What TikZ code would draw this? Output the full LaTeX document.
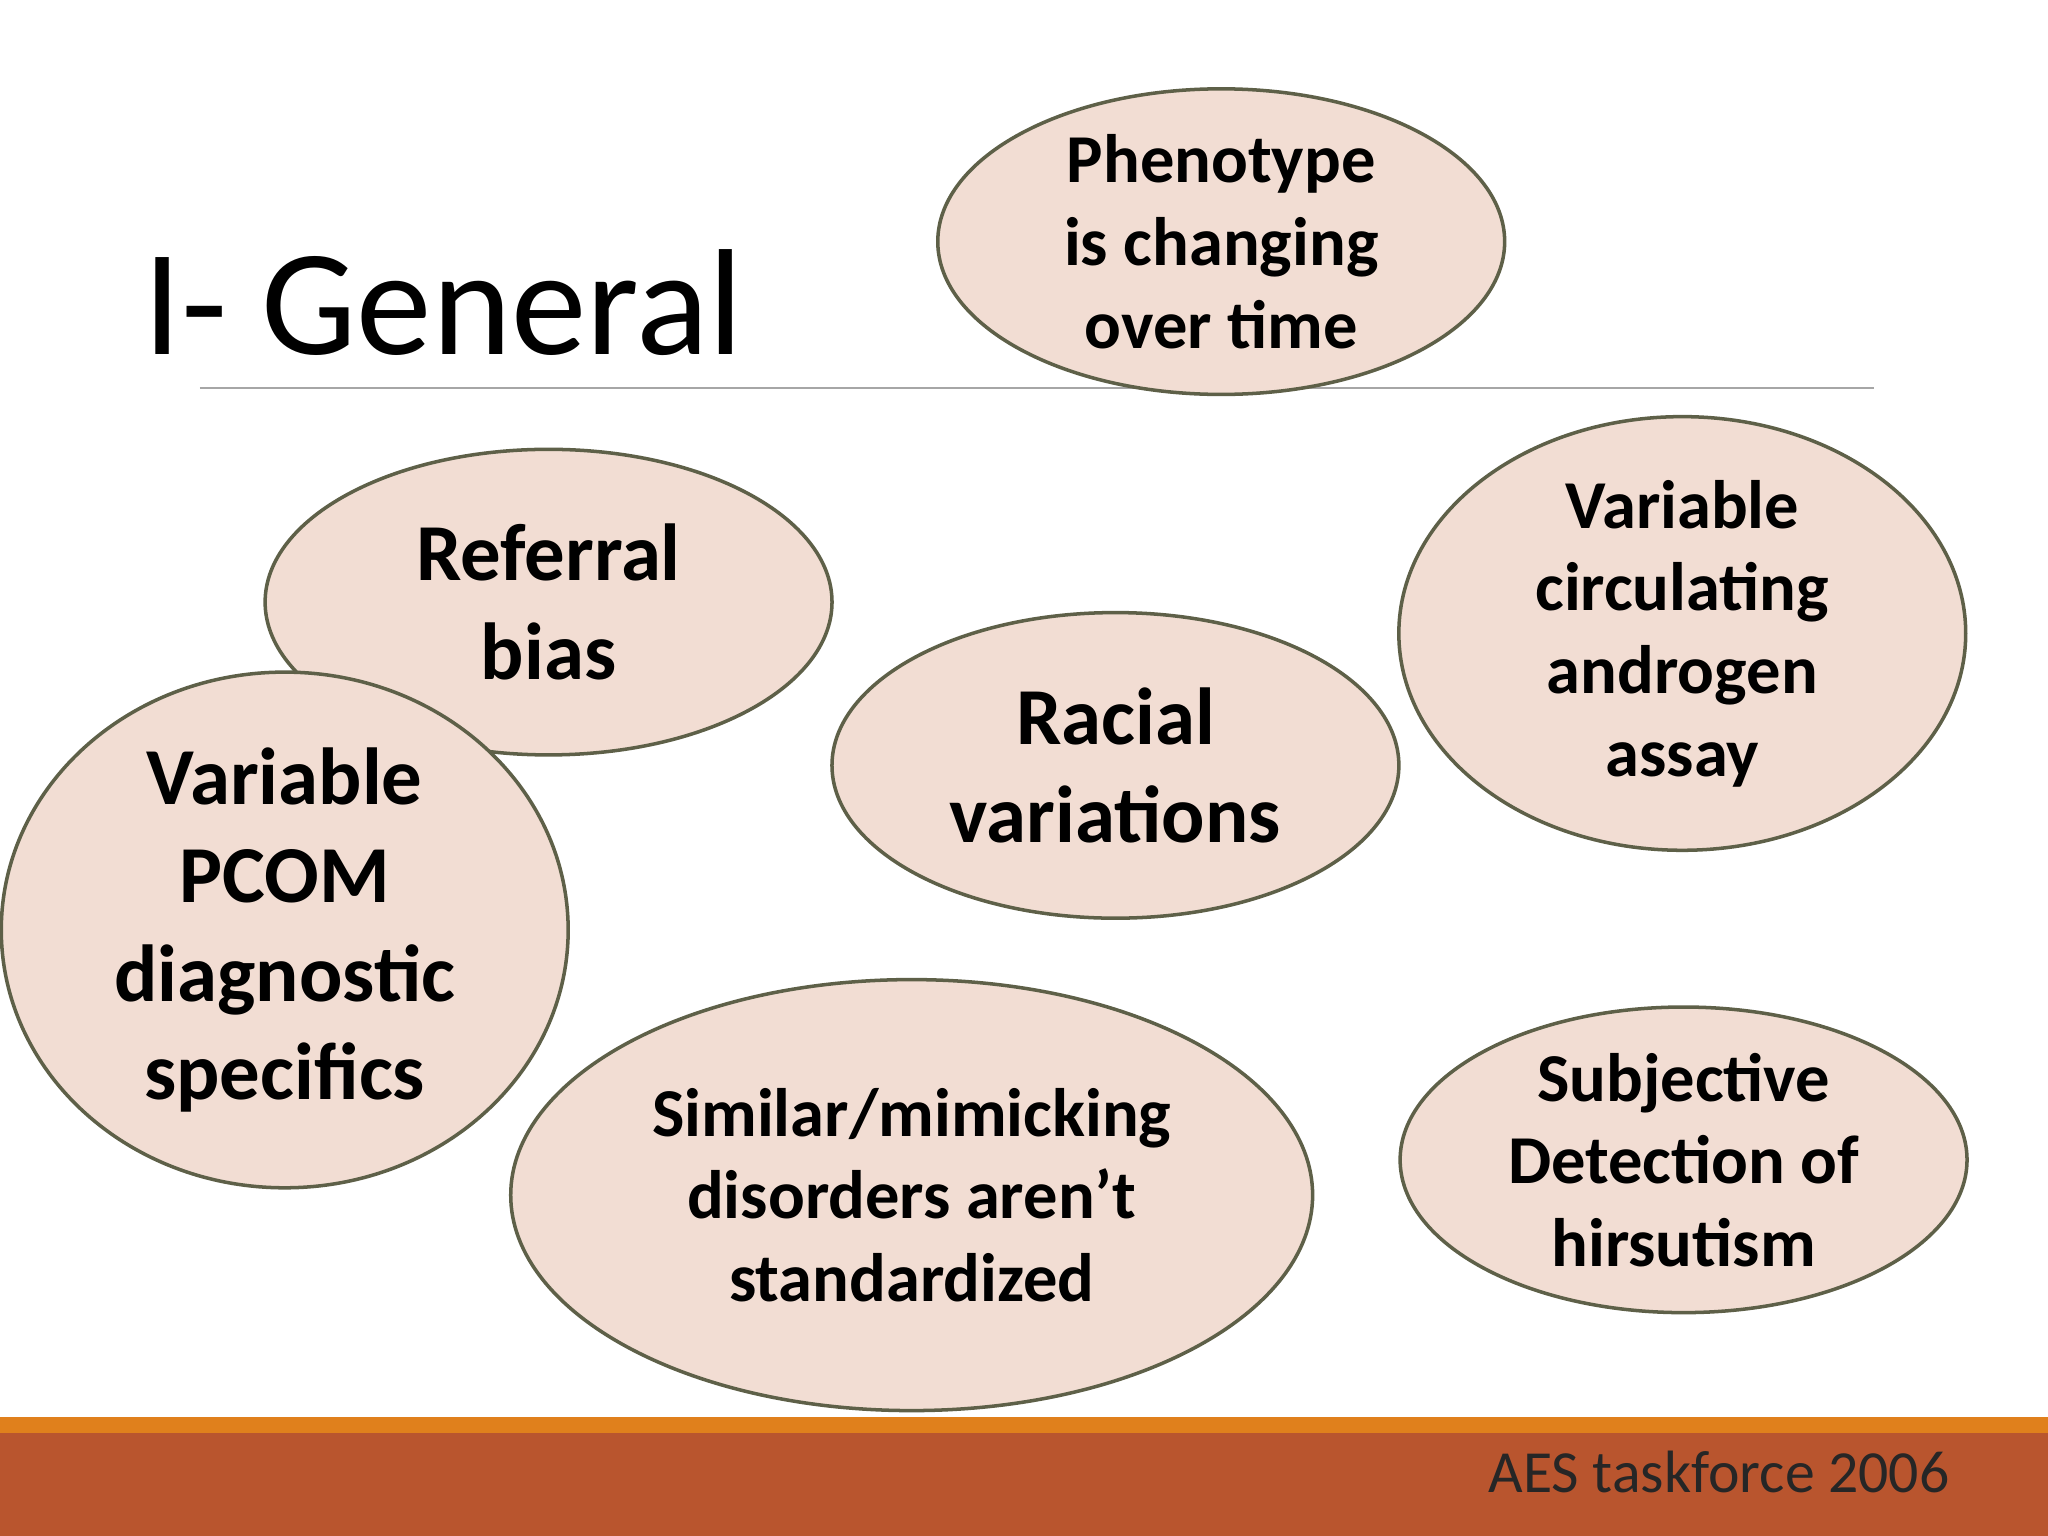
\documentclass[tikz,border=0pt]{standalone}
\usepackage{fontspec}
\setmainfont{Carlito}
\usetikzlibrary{shapes.geometric}
\definecolor{ellfill}{HTML}{F2DDD3}
\definecolor{elldraw}{HTML}{5E6048}
\definecolor{barA}{HTML}{E0801C}
\definecolor{barB}{HTML}{B9552E}
\begin{document}
\begin{tikzpicture}[x=0.013061cm,y=-0.013061cm,
  ell/.style={ellipse,draw=elldraw,fill=ellfill,line width=1pt,align=center,font=\bfseries,inner sep=0pt},
  s19/.style={font=\bfseries\fontsize{19.5}{23.5}\selectfont},
  s23/.style={font=\bfseries\fontsize{23}{28}\selectfont}]
\useasboundingbox (0,0) rectangle (1568,1176);
\fill[white] (0,0) rectangle (1568,1176);
\fill[barA] (0,1085) rectangle (1568,1097);
\fill[barB] (0,1097) rectangle (1568,1176);
\node[anchor=east,font=\fontsize{17}{20}\selectfont,text=black!85] (foot) at (1502,1127) {AES taskforce 2006};
\node[anchor=west,font=\fontsize{43}{50}\selectfont] (title) at (100,232) {I- General};
\draw[gray!70,line width=0.8pt] (153,297) coordinate (l1) -- (1435,297) coordinate (l2);
\node[ell,s19,minimum width=5.669cm,minimum height=3.056cm] (phen) at (935,185) {Phenotype\\is changing\\over time};
\node[ell,s23,minimum width=5.669cm,minimum height=3.056cm] (ref) at (420,461) {Referral\\bias};
\node[ell,s23,minimum width=5.669cm,minimum height=3.056cm] (rac) at (854,586) {Racial\\variations};
\node[ell,s19,minimum width=5.669cm,minimum height=3.709cm] (circ) at (1288,485) {Variable\\circulating\\androgen\\assay};
\node[ell,s23,minimum width=5.669cm,minimum height=3.918cm] (pcom) at (218,712) {Variable\\PCOM\\diagnostic\\specifics};
\node[ell,s19,minimum width=8.019cm,minimum height=4.310cm] (sim) at (698,915) {Similar/mimicking\\disorders aren’t\\standardized};
\node[ell,s19,minimum width=5.669cm,minimum height=3.056cm] (subj) at (1289,888) {Subjective\\Detection of\\hirsutism};
\end{tikzpicture}
\end{document}
